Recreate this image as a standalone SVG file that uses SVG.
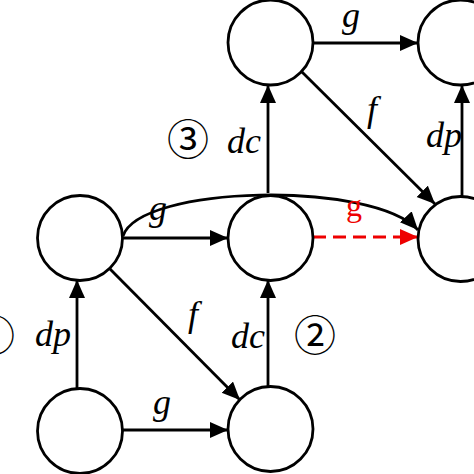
<svg xmlns="http://www.w3.org/2000/svg" width="474" height="474" viewBox="0 0 474 474">
<style>
.node{fill:#fff;stroke:#000;stroke-width:2.8}
.edge{fill:none;stroke:#000;stroke-width:2.8}
.red{fill:none;stroke:#e00;stroke-width:2.8;stroke-dasharray:13 7}
.lbl{font-family:"Liberation Serif","Times New Roman",serif;font-style:italic;font-size:36px;fill:#000;text-anchor:middle}
.rl{font-family:"Liberation Serif","Times New Roman",serif;font-size:32px;fill:#e00;text-anchor:middle}
.num{font-family:"Noto Sans CJK SC","DejaVu Sans",sans-serif;font-size:42px;fill:#000;text-anchor:middle}
</style>
<defs>
<marker id="ah" markerUnits="userSpaceOnUse" markerWidth="20" markerHeight="18" refX="18" refY="8" orient="auto">
<path d="M0,0 L18,8 L0,16 z" fill="#000"/>
</marker>
<marker id="ahr" markerUnits="userSpaceOnUse" markerWidth="20" markerHeight="18" refX="18" refY="8" orient="auto">
<path d="M0,0 L18,8 L0,16 z" fill="#e00"/>
</marker>
</defs>
<g id="connectors">
<line class="edge" x1="313" y1="43" x2="418" y2="43" marker-end="url(#ah)"/>
<line class="edge" x1="268" y1="193" x2="268" y2="85" marker-end="url(#ah)"/>
<line class="edge" x1="301" y1="71" x2="435" y2="204" marker-end="url(#ah)"/>
<line class="edge" x1="462" y1="196" x2="462" y2="85" marker-end="url(#ah)"/>
<line class="edge" x1="123" y1="238" x2="228" y2="238" marker-end="url(#ah)"/>
<path class="edge" d="M123,236 C140,185 372,180 418,230" marker-end="url(#ah)"/>
<line class="red" x1="313" y1="237" x2="418" y2="237" marker-end="url(#ahr)"/>
<line class="edge" x1="110" y1="269" x2="240" y2="400" marker-end="url(#ah)"/>
<line class="edge" x1="268" y1="387" x2="268" y2="280" marker-end="url(#ah)"/>
<line class="edge" x1="77" y1="389" x2="77" y2="280" marker-end="url(#ah)"/>
<line class="edge" x1="123" y1="430" x2="228" y2="430" marker-end="url(#ah)"/>
</g>
<g id="nA"><circle class="node" cx="270.5" cy="42.5" r="42.5"/></g>
<g id="nB"><circle class="node" cx="460.5" cy="42.5" r="42.5"/></g>
<g id="nC"><circle class="node" cx="270.5" cy="238" r="42.5"/></g>
<g id="nD"><circle class="node" cx="80" cy="238" r="42.5"/></g>
<g id="nE"><circle class="node" cx="460.5" cy="239" r="42.5"/></g>
<g id="nF"><circle class="node" cx="80" cy="431" r="42.5"/></g>
<g id="nG"><circle class="node" cx="270.5" cy="429" r="42.5"/></g>
<g id="labels">
<text class="lbl" x="351" y="27">g</text>
<text class="lbl" x="372" y="121">f</text>
<text class="lbl" x="244" y="153">dc</text>
<text class="num" x="188" y="155">③</text>
<text class="lbl" x="444" y="147">dp</text>
<text class="lbl" x="158" y="220">g</text>
<text class="rl" x="354" y="216">g</text>
<text class="lbl" x="193" y="326">f</text>
<text class="lbl" x="248" y="348">dc</text>
<text class="num" x="315" y="351">②</text>
<text class="lbl" x="53" y="346">dp</text>
<text class="num" x="-6" y="351">①</text>
<text class="lbl" x="162" y="414">g</text>
</g>
</svg>
